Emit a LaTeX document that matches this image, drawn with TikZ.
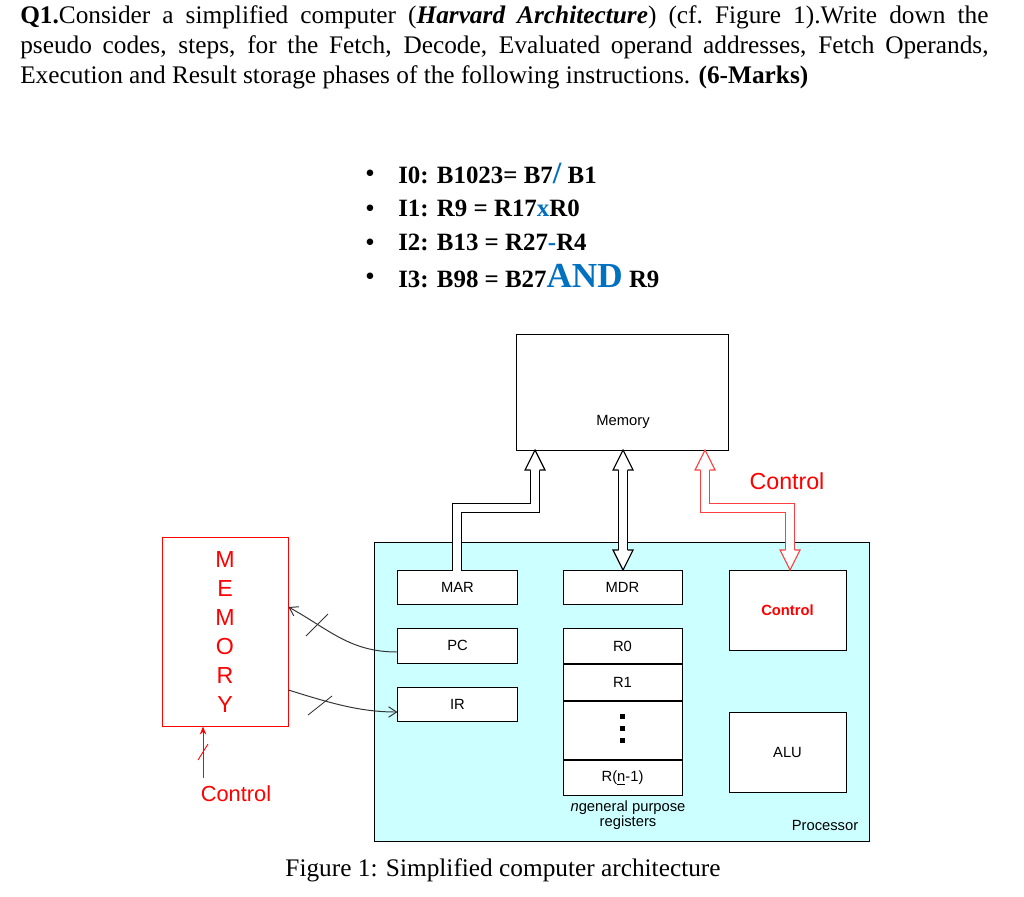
\documentclass[tikz,border=0pt]{standalone}
\usepackage{fontspec}
\setmainfont{Liberation Serif}
\newfontfamily\arial{Liberation Sans}
\usetikzlibrary{arrows.meta}
\definecolor{proc}{HTML}{CCFFFF}
\definecolor{myblue}{HTML}{0070C0}
\definecolor{lred}{HTML}{FF4040}
\begin{document}
\begin{tikzpicture}[x=0.025cm,y=-0.025cm,
  box/.style={draw,fill=white,line width=0.7pt,inner sep=0,font=\arial\fontsize{10.5}{12}\selectfont},
  fatout/.style={line width=7.2pt},
  fatin/.style={white,line width=5.2pt},
  head/.style={fill=white,line width=0.8pt},
  thin/.style={line width=0.7pt,-{Straight Barb[length=2mm,width=2.6mm]}},
  big/.style={font=\fontsize{18}{21.3}\selectfont}]
\useasboundingbox (0,0) rectangle (1024,896);
% title
\node[anchor=north west,inner sep=0,text width=24.2cm,align=justify,big] (title) at (20,5)
{\textbf{Q1.}Consider a simplified computer (\textbf{\textit{Harvard Architecture}}) (cf.\ Figure 1).Write down the\linebreak pseudo codes, steps, for the Fetch, Decode, Evaluated operand addresses, Fetch Operands,\linebreak Execution and Result storage phases of the following instructions. \textbf{(6-Marks)}};
% bullets
\foreach \y/\t [count=\i] in {173/{I0: B1023= B7\textcolor{myblue}{\fontsize{22}{22}\selectfont/} B1},
 208/{I1: R9 = R17\textcolor{myblue}{x}R0},
 242/{I2: B13 = R27\textcolor{myblue}{-}R4},
 276/{I3: B98 = B27\textcolor{myblue}{\fontsize{25}{25}\selectfont AND} R9}}{
  \node[font=\fontsize{12}{12}\selectfont] (b\i) at (370,\y+1) {$\bullet$};
  \node[anchor=west,inner sep=0,font=\bfseries\fontsize{17.7}{21}\selectfont] (i\i) at (398,\y) {\t};
}
% boxes
\node[box,minimum width=5.275cm,minimum height=2.9cm] (mem) at (622.5,392) {};
\node[font=\arial\fontsize{10.5}{12}\selectfont] (memlbl) at (623,422) {Memory};
\node[draw,fill=proc,line width=0.7pt,minimum width=12.35cm,minimum height=7.45cm,inner sep=0] (proc) at (622,692) {};
\node[font=\arial\fontsize{10.5}{12}\selectfont] (proclbl) at (825,825) {Processor};
\node[box,minimum width=2.975cm,minimum height=0.85cm] (mar) at (457.5,587) {MAR};
\node[box,minimum width=2.975cm,minimum height=0.85cm] (mdr) at (622.5,587) {MDR};
\node[box,minimum width=2.925cm,minimum height=2cm,text=red,font=\arial\bfseries\fontsize{10.5}{12}\selectfont] (ctl) at (787.5,610) {Control};
\node[box,minimum width=2.975cm,minimum height=0.875cm] (pc) at (457.5,645.5) {PC};
\node[box,minimum width=2.975cm,minimum height=0.85cm] (ir) at (457.5,704) {IR};
\node[box,minimum width=2.975cm,minimum height=0.875cm,anchor=north] (r0) at (622.5,628) {R0};
\node[box,minimum width=2.975cm,minimum height=0.9cm,anchor=north] (r1) at (r0.south) {R1};
\node[box,minimum width=2.975cm,minimum height=1.45cm,anchor=north] (rd) at (r1.south) {};
\node[box,minimum width=2.975cm,minimum height=0.875cm,anchor=north] (rn) at (rd.south) {R(\underline{n}-1)};
\foreach \d in {-12,0,12} \fill (620,726+\d) rectangle ++(5,5);
\node[box,minimum width=2.925cm,minimum height=2cm] (alu) at (787.5,752) {ALU};
\node[align=center,inner sep=0,font=\arial\fontsize{10.5}{11}\selectfont] (regs) at (628,815) {\textit{n}general purpose\\registers};
% left memory
\node[draw=red,line width=0.7pt,minimum width=3.125cm,minimum height=4.7cm,inner sep=0] (lmem) at (225.5,632) {};
\node[align=center,text=red,font=\arial\fontsize{16.5}{20.5}\selectfont] (lmemt) at (225,632) {M\\E\\M\\O\\R\\Y};
\node[text=red,font=\arial\fontsize{15.5}{18}\selectfont] (lctl) at (236,794) {Control};
\coordinate (lc) at (203,778);
\draw[red,line width=0.7pt,-{Stealth[length=2mm,width=1.6mm]}] (lc) -- (lmem.south -| lc);
\draw[red,line width=0.6pt] (198,760) -- (208,744);
% thin arrows
\draw[thin,black!80] (pc.west |- 0,652) .. controls (350,652) and (330,630) .. (lmem.east |- 0,607);
\draw[black!80,line width=0.6pt] (306,636) -- (328,614);
\draw[thin,black!80] (lmem.east |- 0,690) .. controls (330,703) and (360,712) .. (ir.west |- 0,712);
\draw[black!80,line width=0.6pt] (308,715) -- (332,696);
% fat arrows
\draw[fatout] (457,570) -- (457,508) -- (535,508) -- (535,469);
\draw[fatin] (457,571) -- (457,508) -- (535,508) -- (535,468);
\draw[head] (530.5,470) -- (525,470) -- (535,450) -- (545,470) -- (539.5,470);
\draw[fatout] (623,469) -- (623,551);
\draw[fatin] (623,468) -- (623,552);
\draw[head] (618.5,470) -- (613,470) -- (623,450) -- (633,470) -- (627.5,470);
\draw[head] (618.5,550) -- (613,550) -- (623,570) -- (633,550) -- (627.5,550);
\draw[fatout,lred] (705,469) -- (705,508) -- (790,508) -- (790,551);
\draw[fatin] (705,468) -- (705,508) -- (790,508) -- (790,552);
\draw[head,draw=lred] (700.5,470) -- (695,470) -- (705,450) -- (715,470) -- (709.5,470);
\draw[head,draw=lred] (785.5,550) -- (780,550) -- (790,570) -- (800,550) -- (794.5,550);
\node[text=red,font=\arial\fontsize{16.5}{18}\selectfont] (rctl) at (787,481) {Control};
% caption
\node[big] (cap) at (503,870) {Figure 1: Simplified computer architecture};
\end{tikzpicture}
\end{document}
